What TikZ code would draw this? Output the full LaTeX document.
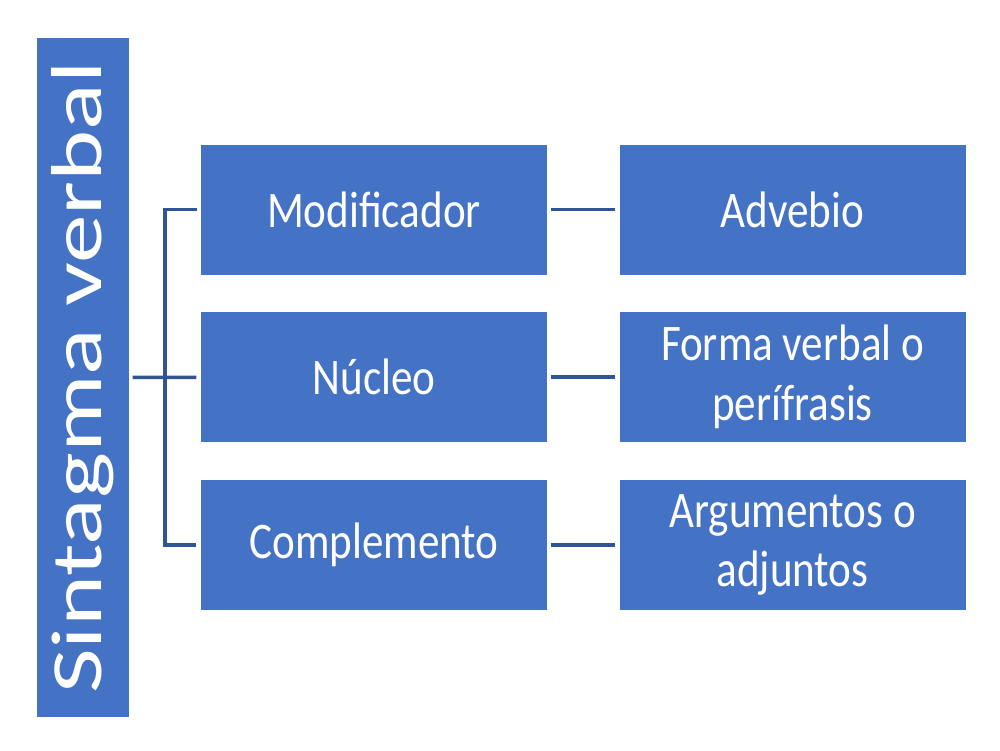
\documentclass[tikz,border=0pt]{standalone}
\usepackage{fontspec}
\setmainfont[FakeStretch=0.84]{Carlito}
\newfontfamily\titlefont[FakeStretch=1.35]{Carlito}
\usepackage{xcolor}
\usetikzlibrary{positioning}

\definecolor{boxblue}{HTML}{4472C4}
\definecolor{linkblue}{HTML}{2F5597}

\begin{document}
\begin{tikzpicture}[
    box/.style={fill=boxblue,text=white,minimum width=3.46cm,minimum height=1.30cm,
      inner sep=0pt,align=center,font=\fontsize{14.6}{17}\selectfont},
    link/.style={draw=linkblue,line width=1pt,shorten <=0.03cm,shorten >=0.04cm}
  ]

  % frame
  \useasboundingbox (0,0) rectangle (10,7.5);

  % tall title box (rotated, so width runs along the text)
  \node[fill=boxblue,text=white,minimum width=6.79cm,minimum height=0.92cm,inner sep=0pt,
    rotate=90,font=\titlefont\fontsize{20.5}{24}\selectfont] (sv) at (0.83,3.725)
    {Sintagma verbal};

  % first column
  \node[box] (mod)  at (3.74,5.405) {Modificador};
  \node[box] (nuc)  at (3.74,3.73)  {Núcleo};
  \node[box] (comp) at (3.74,2.05)  {Complemento};

  % second column
  \node[box] (adv)  at (7.925,5.405) {Advebio};
  \node[box] (form) at (7.925,3.73)  {Forma verbal o\\perífrasis};
  \node[box] (arg)  at (7.925,2.05)  {Argumentos o\\adjuntos};

  % fork
  \coordinate (fork) at (1.65,3.73);
  \draw[link] (sv) -- (nuc);
  \draw[link] (mod) -| (fork) |- (comp);

  % links between columns
  \draw[link] (mod) -- (adv);
  \draw[link] (nuc) -- (form);
  \draw[link] (comp) -- (arg);

\end{tikzpicture}
\end{document}
